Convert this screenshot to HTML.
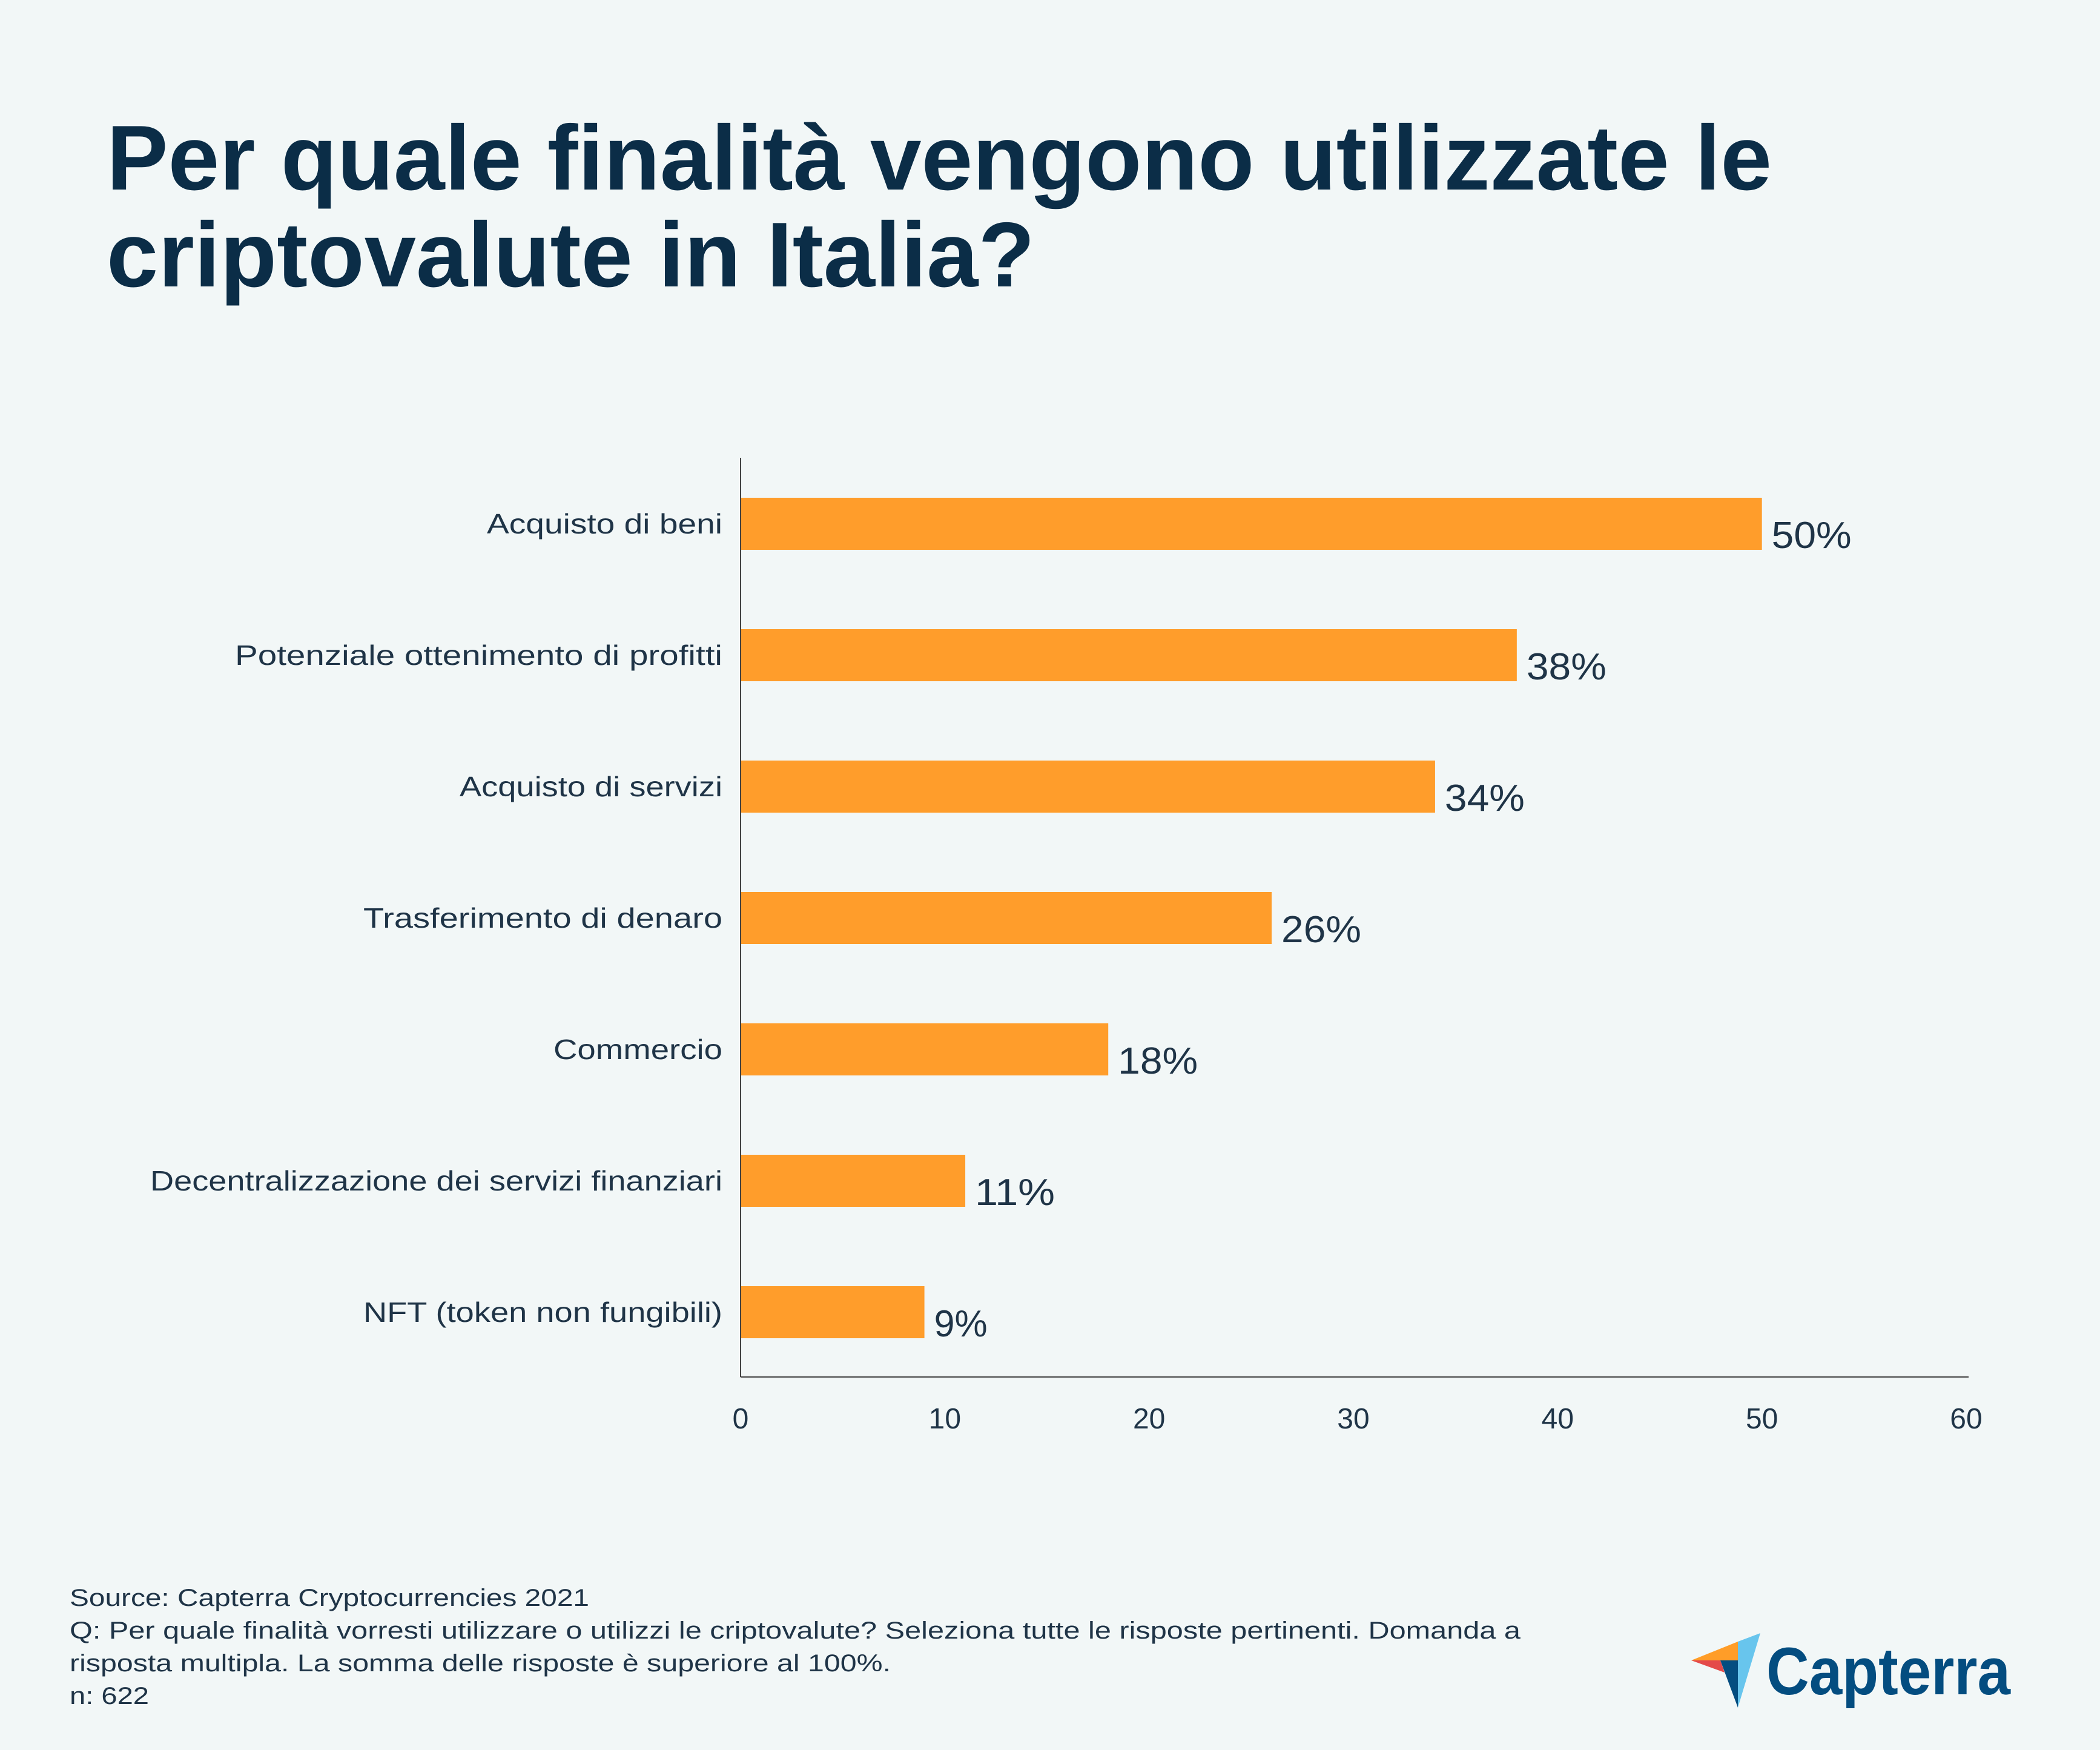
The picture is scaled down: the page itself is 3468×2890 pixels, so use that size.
<!DOCTYPE html>
<html><head><meta charset="utf-8"><style>
html,body{margin:0;padding:0;background:#f2f7f7;}
svg{display:block;font-family:"Liberation Sans",sans-serif;}
</style></head><body>
<svg id="chart" width="3468" height="2890" viewBox="0 0 3468 2890" xmlns="http://www.w3.org/2000/svg">
<rect width="3468" height="2890" fill="#f2f7f7"/>
<text x="176" y="313" font-size="152" font-weight="bold" fill="#0b2d47" textLength="2750" lengthAdjust="spacingAndGlyphs">Per quale finalità vengono utilizzate le</text>
<text x="176" y="473" font-size="152" font-weight="bold" fill="#0b2d47" textLength="1533" lengthAdjust="spacingAndGlyphs">criptovalute in Italia?</text>
<g id="plot"></g>
<g font-size="40" fill="#1f3447">
<text x="115" y="2652" textLength="858" lengthAdjust="spacingAndGlyphs">Source: Capterra Cryptocurrencies 2021</text>
<text x="115" y="2706" textLength="2396" lengthAdjust="spacingAndGlyphs">Q: Per quale finalità vorresti utilizzare o utilizzi le criptovalute? Seleziona tutte le risposte pertinenti. Domanda a</text>
<text x="115" y="2760" textLength="1356" lengthAdjust="spacingAndGlyphs">risposta multipla. La somma delle risposte è superiore al 100%.</text>
<text x="115" y="2814" textLength="131" lengthAdjust="spacingAndGlyphs">n: 622</text>
</g>
<g>
<polygon points="2793,2742 2870,2711 2870,2742" fill="#ff9d28"/>
<polygon points="2870,2711 2907,2697 2870,2820" fill="#68c5ed"/>
<polygon points="2793,2742 2841,2742 2848,2762" fill="#e44a4a"/>
<polygon points="2841,2742 2870,2742 2870,2820" fill="#044d80"/>
<text x="2917" y="2798" font-size="110" font-weight="bold" fill="#044d80" textLength="403" lengthAdjust="spacingAndGlyphs">Capterra</text>
</g>
</svg>
<script>
const categories=["Acquisto di beni","Potenziale ottenimento di profitti","Acquisto di servizi","Trasferimento di denaro","Commercio","Decentralizzazione dei servizi finanziari","NFT (token non fungibili)"];
const values=[50,38,34,26,18,11,9];
const valueLabels=["50%","38%","34%","26%","18%","11%","9%"];
const ticks=[0,10,20,30,40,50,60];
const labelWidths=[389,805,434,593,279,945,593];
const NS="http://www.w3.org/2000/svg";
const g=document.getElementById('plot');
const x0=1223,x1=3247,yTop=756,yBot=2274,firstC=865,step=217,barH=86;
const xs=v=>x0+(v-0)/(60-0)*(x1-x0);
const yc=i=>firstC+i*step;
function mk(t,a){const e=document.createElementNS(NS,t);for(const k in a)e.setAttribute(k,a[k]);g.appendChild(e);return e;}
values.forEach((v,i)=>{
 const r=mk('rect',{x:xs(0),y:yc(i)-barH/2,width:xs(v)-xs(0),height:barH,fill:'#ff9d2b'});
 
 
 const l=mk('text',{x:xs(v)+16,y:yc(i)+40,'font-size':62,fill:'#1f3447',textLength:valueLabels[i].length*44,lengthAdjust:'spacingAndGlyphs'});l.textContent=valueLabels[i];
 
 
 const c=mk('text',{x:x0-30,y:yc(i)+16,'font-size':46,fill:'#1f3447','text-anchor':'end',textLength:labelWidths[i],lengthAdjust:'spacingAndGlyphs'});c.textContent=categories[i];
 
 
});
const ya=mk('line',{x1:x0,y1:yTop,x2:x0,y2:yBot,stroke:'#444',"stroke-width":2});


const xa=mk('line',{x1:x0,y1:yBot,x2:3251,y2:yBot,stroke:'#444',"stroke-width":2});


ticks.forEach(t=>{
 const e=mk('text',{x:xs(t),y:2359,'font-size':48,fill:'#1f3447','text-anchor':'middle'});e.textContent=t;
 
 
});
</script>
</body></html>
